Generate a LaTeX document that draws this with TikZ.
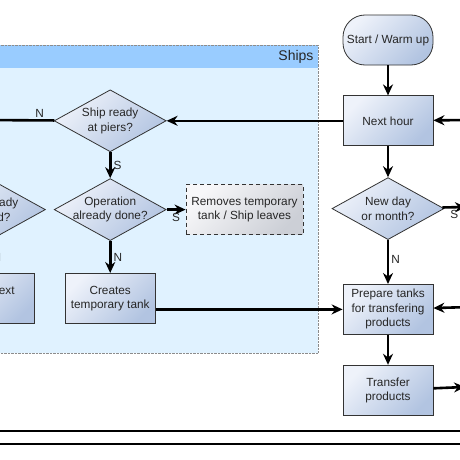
\documentclass[tikz,border=0pt]{standalone}
\usepackage{fontspec}
\setmainfont{Liberation Sans}
\usetikzlibrary{positioning,shapes.geometric,arrows.meta}
\definecolor{boxlight}{RGB}{238,242,250}
\definecolor{boxdark}{RGB}{178,196,225}
\definecolor{greylight}{RGB}{247,247,249}
\definecolor{greydark}{RGB}{204,207,214}
\definecolor{shipsbody}{RGB}{224,242,255}
\definecolor{shipshead}{RGB}{153,204,255}

\begin{document}
\begin{tikzpicture}[x=1pt, y=-1pt, font=\fontsize{11.8}{14.5}\selectfont, text=black!85]
\tikzstyle{stepbox}=[rectangle, minimum width=90pt, minimum height=50pt, inner sep=2pt, align=center, draw=black!80, line width=0.8pt, left color=boxlight, right color=boxdark, shading angle=45]
\tikzstyle{terminal}=[stepbox, rounded corners=22pt]
\tikzstyle{decision}=[diamond, minimum width=112pt, minimum height=62pt, inner sep=0pt, draw=black!80, line width=0.8pt, left color=boxlight, right color=boxdark, shading angle=45]
\tikzstyle{greybox}=[stepbox, dash pattern=on 4pt off 3pt, left color=greylight, right color=greydark, shading angle=45]
\tikzstyle{connect}=[-{Stealth[length=11pt,width=10pt]}, line width=2.6pt]
\tikzstyle{link}=[line width=2.6pt]
\tikzstyle{answer}=[inner sep=2pt]

\useasboundingbox (0,0) rectangle (460,460);
\clip (0,0) rectangle (460,460);
\fill[white] (0,0) rectangle (460,460);

% Ships lane
\fill[shipsbody] (-30,45) rectangle (318,353);
\fill[shipshead] (-30,45) rectangle (318,68);
\draw[black!45, densely dotted] (-30,45) rectangle (318,353);
\node[anchor=east, font=\fontsize{14}{16}\selectfont] (ships) at (317,57) {Ships};

% hourly loop
\node[terminal] (start) at (388,40) {Start / Warm up};
\node[stepbox] (hour) [below=30pt of start] {Next hour};
\node[decision, label={[align=center]center:New day\\or month?}] (newday) [below=31pt of hour] {};
\node[stepbox] (prepare) [below=44pt of newday] {Prepare tanks\\for transfering\\products};
\node[stepbox] (transfer) [below=30pt of prepare] {Transfer\\products};

% ships
\node[decision, label={[align=center]center:Ship ready\\at piers?}] (ready) [left=176pt of hour] {};
\node[decision, label={[align=center]center:Operation\\already done?}] (operation) [below=26pt of ready] {};
\node[greybox, minimum width=117pt] (removes) [right=19pt of operation] {Removes temporary\\tank / Ship leaves};
\node[stepbox] (creates) [below=32pt of operation] {Creates\\temporary tank};
\node[decision, label={[align=center]center:Tank ready\\loaded?}] (tank) [left=8pt of operation] {};
\node[stepbox] (takenext) [below=32pt of tank] {Take next\\ship};

\coordinate (inhour) at (470,120);
\coordinate (toleft) at (-20,120);
\coordinate (outday) at (466,207);
\coordinate (inprepare) at (470,307);
\coordinate (outtransfer) at (465,387);
\coordinate (rulea) at (-5,431);
\coordinate (ruleb) at (465,431);
\coordinate (rulec) at (-5,444);
\coordinate (ruled) at (465,444);

\draw[connect] (start) -- (hour);
\draw[connect] (inhour) -- (hour);
\draw[connect] (hour) -- (ready);
\draw[link] (ready) -- node[answer, above, pos=0.2] {N} (toleft);
\draw[connect] (ready) -- node[answer, right] {S} (operation);
\draw[connect] (operation) -- node[answer, below] {S} (removes);
\draw[connect] (operation) -- node[answer, right] {N} (creates);
\draw[connect] (tank) -- node[answer, right] {N} (takenext);
\draw[connect] (creates.east |- prepare.west) -- (prepare.west);
\draw[connect] (hour) -- (newday);
\draw[connect] (newday) -- node[answer, below, pos=0.5] {S} (outday);
\draw[connect] (newday) -- node[answer, right, pos=0.45] {N} (prepare);
\draw[connect] (inprepare) -- (prepare);
\draw[connect] (prepare) -- (transfer);
\draw[connect] (transfer) -- (outtransfer);
\draw[link] (rulea) -- (ruleb);
\draw[link] (rulec) -- (ruled);
\end{tikzpicture}
\end{document}
